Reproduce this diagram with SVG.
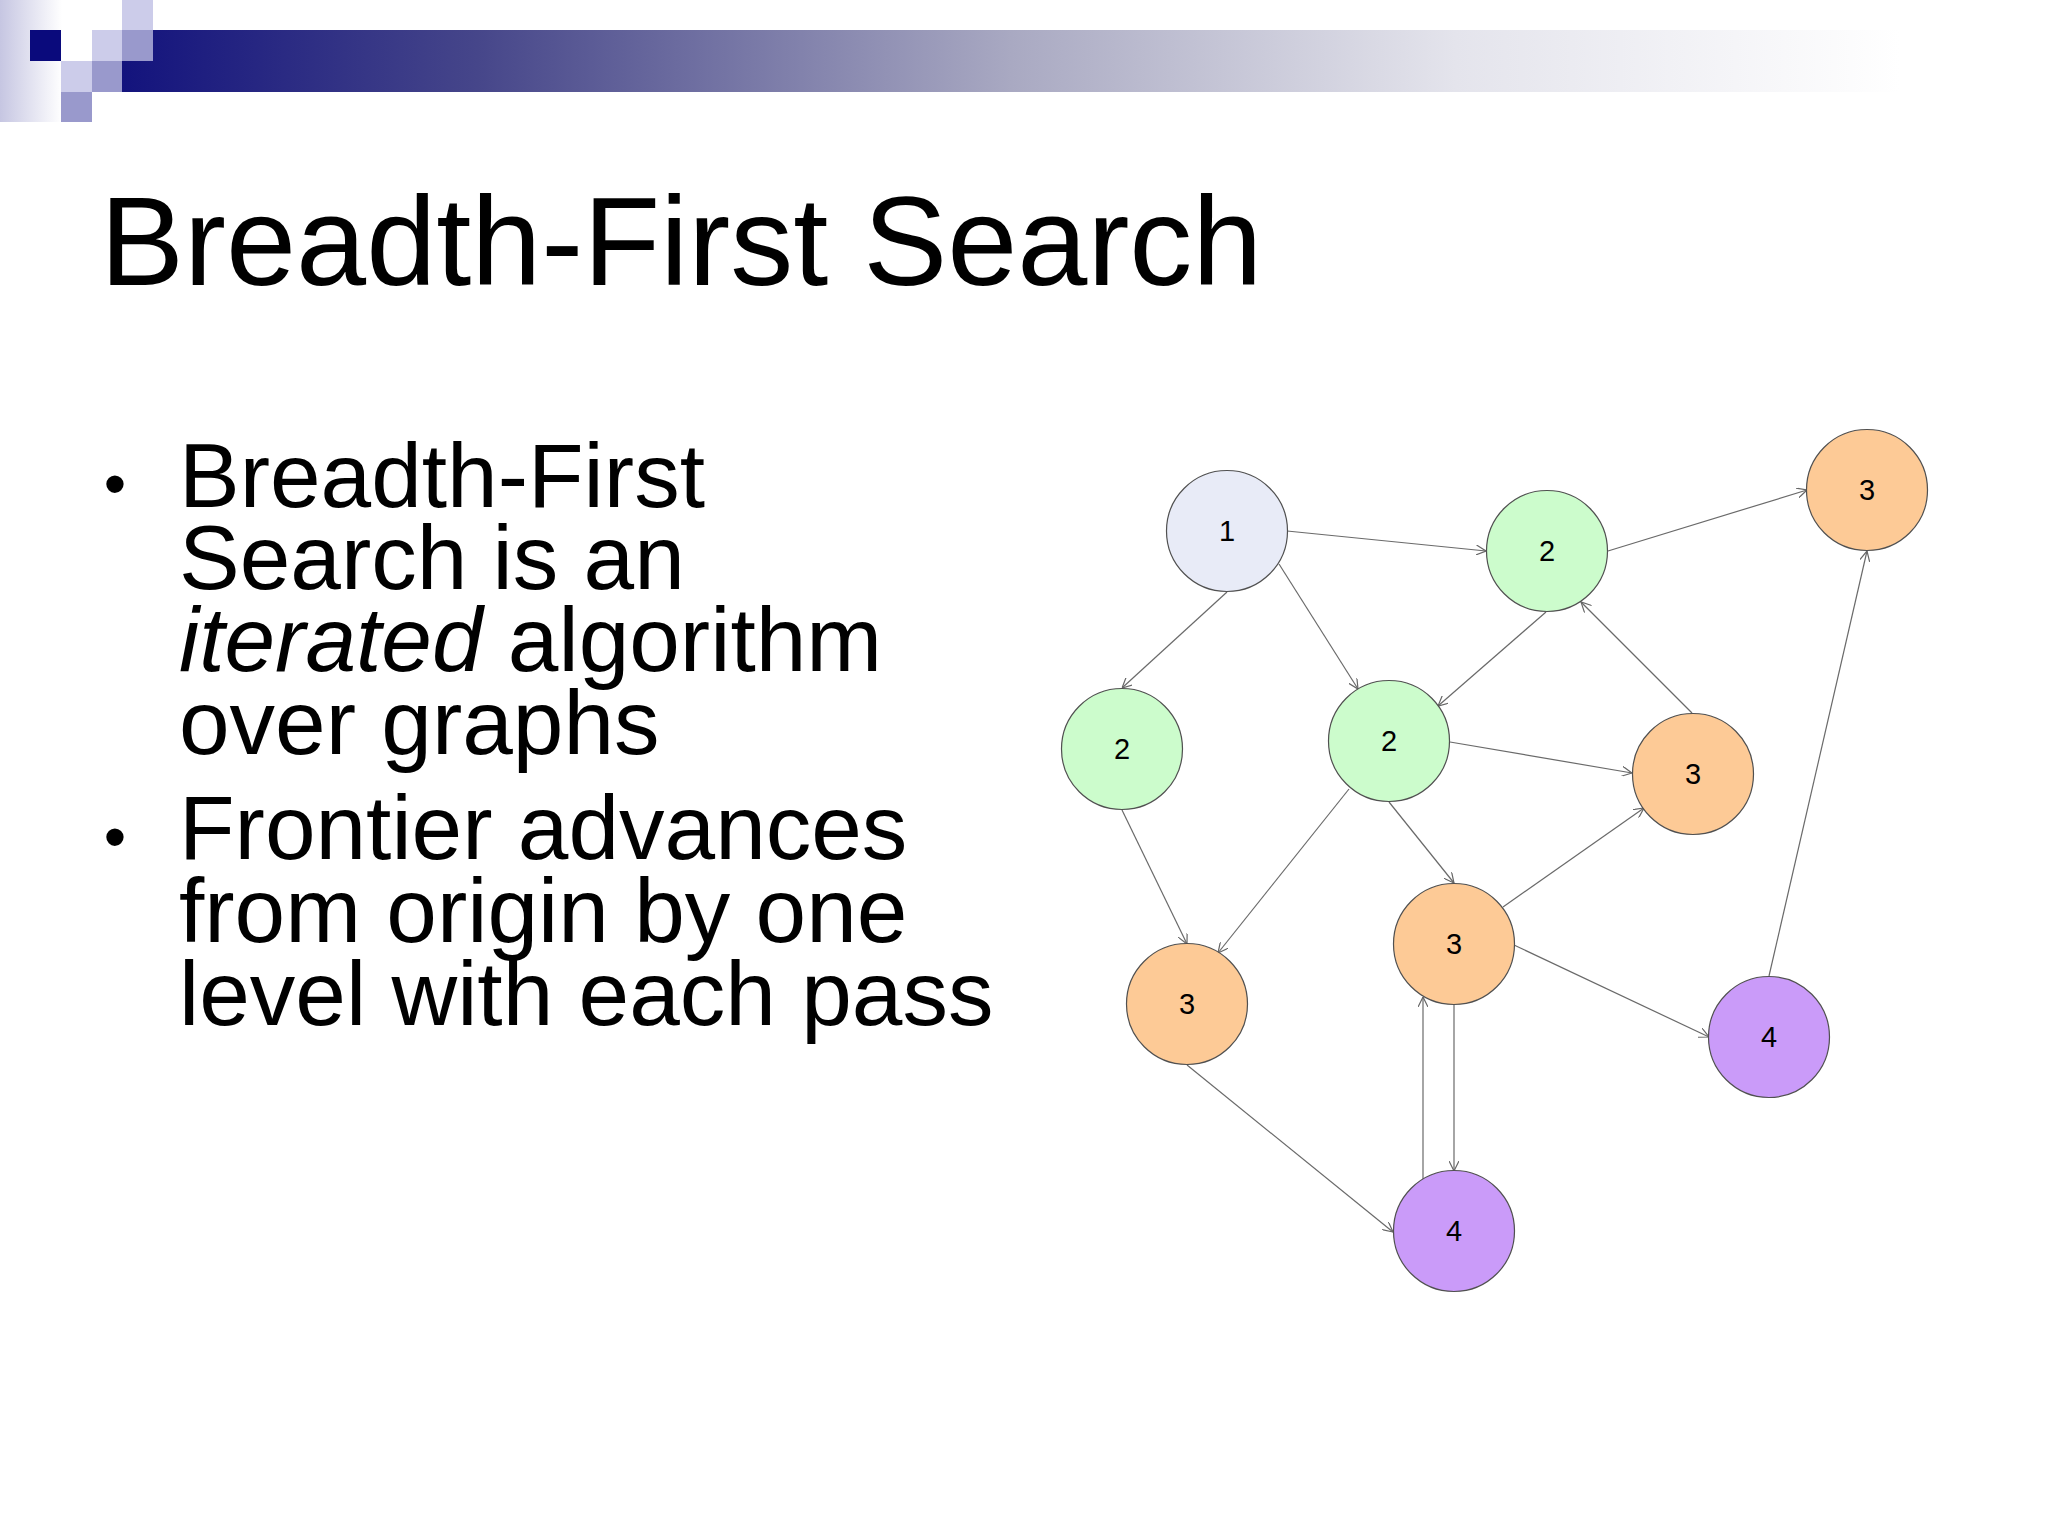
<svg xmlns="http://www.w3.org/2000/svg" width="2048" height="1536" viewBox="0 0 2048 1536">
  <defs>
    <linearGradient id="barGrad" gradientUnits="userSpaceOnUse" x1="122" y1="0" x2="1900" y2="0">
      <stop offset="0" stop-color="#13137d"/>
      <stop offset="0.2" stop-color="#46468a"/>
      <stop offset="0.5" stop-color="#a9a9c2"/>
      <stop offset="0.75" stop-color="#e4e4ec"/>
      <stop offset="1" stop-color="#ffffff"/>
    </linearGradient>
    <linearGradient id="leftGrad" x1="0" y1="0" x2="1" y2="0">
      <stop offset="0" stop-color="#c6c6e2"/>
      <stop offset="1" stop-color="#ffffff"/>
    </linearGradient>
    <marker id="arrow" viewBox="0 0 10 10" refX="10" refY="5" markerWidth="10" markerHeight="10" markerUnits="userSpaceOnUse" orient="auto">
      <path d="M0,0 L10,5 L0,10" fill="none" stroke="#666666" stroke-width="1.2"/>
    </marker>
    <style>
      .edge { stroke: #6a6a6a; stroke-width: 1.2; fill: none; marker-end: url(#arrow); }
      .node { stroke: #505050; stroke-width: 1.2; }
      .n1 { fill: #e8ebf7; }
      .n2 { fill: #ccfccc; }
      .n3 { fill: #fdca96; }
      .n4 { fill: #ca9bf9; }
      .lbl { font-family: "Liberation Sans", Arial, sans-serif; font-size: 29px; fill: #000; text-anchor: middle; }
      .title { font-family: "Liberation Sans", Arial, sans-serif; font-size: 126px; fill: #000; }
      .body { font-family: "Liberation Sans", Arial, sans-serif; font-size: 91px; fill: #000; }
      .bullet { font-family: "Liberation Sans", Arial, sans-serif; font-size: 64px; fill: #000; text-anchor: middle; }
      .light { fill: #ccccea; }
      .mid { fill: #9999cc; }
    </style>
  </defs>

  <rect width="2048" height="1536" fill="#ffffff"/>

  <g id="header">
    <rect x="0" y="0" width="62" height="122" fill="url(#leftGrad)"/>
    <rect x="122" y="30" width="1926" height="62" fill="url(#barGrad)"/>
    <rect x="30" y="30" width="31" height="31" fill="#0a0a7c"/>
    <rect class="light" x="92" y="30" width="30" height="31"/>
    <rect class="light" x="122" y="0" width="31" height="30"/>
    <rect class="mid" x="122" y="30" width="31" height="31"/>
    <rect class="light" x="61" y="61" width="31" height="31"/>
    <rect class="mid" x="92" y="61" width="30" height="31"/>
    <rect class="mid" x="61" y="92" width="31" height="30"/>
  </g>

  <g id="title">
    <text class="title" x="100" y="285">Breadth-First Search</text>
  </g>

  <g id="bullets">
    <text class="bullet" x="115" y="506">•</text>
    <text class="body" x="179" y="507">Breadth-First</text>
    <text class="body" x="179" y="589">Search is an</text>
    <text class="body" x="179" y="671"><tspan font-style="italic">iterated</tspan> algorithm</text>
    <text class="body" x="179" y="754">over graphs</text>
    <text class="bullet" x="115" y="859">•</text>
    <text class="body" x="179" y="859">Frontier advances</text>
    <text class="body" x="179" y="942">from origin by one</text>
    <text class="body" x="179" y="1025">level with each pass</text>
  </g>

  <g id="connectors">
    <line class="edge" x1="1287" y1="531" x2="1486" y2="551"/>
    <line class="edge" x1="1227" y1="592" x2="1122" y2="688"/>
    <line class="edge" x1="1279" y1="564" x2="1358" y2="689"/>
    <line class="edge" x1="1546" y1="612" x2="1438" y2="706"/>
    <line class="edge" x1="1692" y1="713" x2="1581" y2="602"/>
    <line class="edge" x1="1608" y1="551" x2="1807" y2="490"/>
    <line class="edge" x1="1450" y1="742" x2="1632" y2="773"/>
    <line class="edge" x1="1122" y1="810" x2="1187" y2="944"/>
    <line class="edge" x1="1349" y1="789" x2="1218" y2="953"/>
    <line class="edge" x1="1389" y1="802" x2="1454" y2="883"/>
    <line class="edge" x1="1503" y1="907" x2="1644" y2="808"/>
    <line class="edge" x1="1514" y1="945" x2="1709" y2="1037"/>
    <line class="edge" x1="1769" y1="976" x2="1867" y2="551"/>
    <line class="edge" x1="1454" y1="1004" x2="1454" y2="1171"/>
    <line class="edge" x1="1423" y1="1179" x2="1423" y2="997"/>
    <line class="edge" x1="1187" y1="1065" x2="1393" y2="1232"/>
  </g>

  <g id="node-1"><circle class="node n1" cx="1227" cy="531" r="60.5"/><text class="lbl" x="1227" y="541">1</text></g>
  <g id="node-2a"><circle class="node n2" cx="1547" cy="551" r="60.5"/><text class="lbl" x="1547" y="561">2</text></g>
  <g id="node-3a"><circle class="node n3" cx="1867" cy="490" r="60.5"/><text class="lbl" x="1867" y="500">3</text></g>
  <g id="node-2b"><circle class="node n2" cx="1122" cy="749" r="60.5"/><text class="lbl" x="1122" y="759">2</text></g>
  <g id="node-2c"><circle class="node n2" cx="1389" cy="741" r="60.5"/><text class="lbl" x="1389" y="751">2</text></g>
  <g id="node-3b"><circle class="node n3" cx="1693" cy="774" r="60.5"/><text class="lbl" x="1693" y="784">3</text></g>
  <g id="node-3c"><circle class="node n3" cx="1454" cy="944" r="60.5"/><text class="lbl" x="1454" y="954">3</text></g>
  <g id="node-3d"><circle class="node n3" cx="1187" cy="1004" r="60.5"/><text class="lbl" x="1187" y="1014">3</text></g>
  <g id="node-4a"><circle class="node n4" cx="1769" cy="1037" r="60.5"/><text class="lbl" x="1769" y="1047">4</text></g>
  <g id="node-4b"><circle class="node n4" cx="1454" cy="1231" r="60.5"/><text class="lbl" x="1454" y="1241">4</text></g>
</svg>
